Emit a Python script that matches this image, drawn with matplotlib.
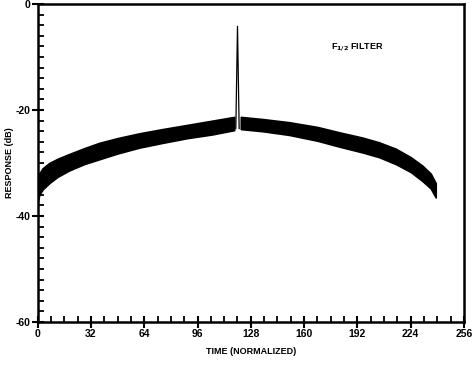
import matplotlib.pyplot as plt
import numpy as np

plt.rcParams['axes.unicode_minus'] = False
plt.rcParams['font.family'] = ['Liberation Sans', 'DejaVu Sans']

# envelope of the response band, left half (before the spike)
t_left = [0, 1, 3, 7, 12, 19, 28, 37, 48, 61, 75, 90, 105, 118]
upper_left = [-33.0, -32.0, -31.0, -30.0, -29.2, -28.3, -27.2, -26.2, -25.3, -24.4, -23.6, -22.8, -22.0, -21.3]
lower_left = [-37.5, -36.0, -35.0, -33.8, -32.6, -31.4, -30.2, -29.3, -28.2, -27.1, -26.2, -25.3, -24.6, -23.8]

# envelope of the response band, right half (after the spike)
t_right = [122, 135, 151, 168, 181, 195, 205, 215, 224, 231, 236, 239]
upper_right = [-21.3, -21.7, -22.3, -23.2, -24.2, -25.2, -26.1, -27.3, -28.9, -30.5, -32.0, -33.8]
lower_right = [-23.6, -24.0, -24.7, -25.8, -26.9, -28.0, -28.9, -30.2, -31.7, -33.4, -34.8, -36.5]

# the spike
spike_t = [119.0, 120.0, 121.0]
spike_db = [-23.5, -4.2, -23.5]

fig = plt.figure(figsize=(4.74, 3.72), dpi=100)
ax = fig.add_axes([0.0793, 0.1344, 0.8997, 0.8548])

ax.fill_between(t_left, lower_left, upper_left, color='black', linewidth=1.2)
ax.fill_between(t_right, lower_right, upper_right, color='black', linewidth=1.2)
ax.plot(spike_t, spike_db, color='black', linewidth=0.9)

ax.set_xlim(0, 256)
ax.set_ylim(-60, 0)
ax.set_xticks(np.arange(0, 257, 32))
ax.set_xticks(np.arange(0, 257, 8), minor=True)
ax.set_yticks([-60, -40, -20, 0])
ax.set_yticks(np.arange(-60, 1, 2), minor=True)

for side in ['left', 'right', 'top', 'bottom']:
    ax.spines[side].set_linewidth(1.8)

ax.tick_params(which='major', direction='inout', length=8, width=1.5,
               labelsize=7.5, pad=1)
ax.tick_params(which='minor', direction='in', length=4, width=1.3)
for lab in ax.get_xticklabels() + ax.get_yticklabels():
    lab.set_fontweight('bold')

ax.set_xlabel('TIME (NORMALIZED)', fontsize=6.5, fontweight='bold', labelpad=6)
ax.set_ylabel('RESPONSE (dB)', fontsize=6.5, fontweight='bold', labelpad=1)

ax.text(176, -8.2, r'F$_{\mathbf{1/2}}$ FILTER', fontsize=6.5, fontweight='bold',
        ha='left', va='center')

fig.savefig('out.png', dpi=100)
